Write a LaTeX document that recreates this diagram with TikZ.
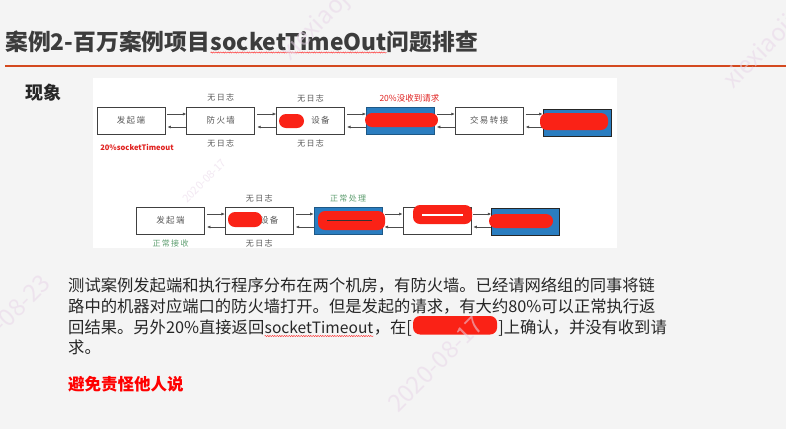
\documentclass[tikz,border=0pt]{standalone}
\usepackage{fontspec}
\setmainfont{Noto Sans CJK SC}
\usetikzlibrary{arrows.meta,positioning,decorations.pathmorphing}

\definecolor{slidebg}{HTML}{F4F4F4}
\definecolor{rulecol}{HTML}{D4491F}
\definecolor{ink}{HTML}{262626}
\definecolor{titleink}{HTML}{3C3C3C}
\definecolor{boxblue}{HTML}{2A7DC0}
\definecolor{redact}{HTML}{FA2216}
\definecolor{okgreen}{HTML}{5E9E70}
\definecolor{wmark}{HTML}{E9D6E9}
\definecolor{notered}{HTML}{E0201E}

\tikzset{
  whitebox/.style={draw=black!75, fill=white, line width=0.8pt,
    minimum width=68pt, minimum height=27pt, inner sep=0pt,
    font=\fontsize{8.5}{10}\selectfont, text=black!65},
  bluebox/.style={whitebox, fill=boxblue, draw=boxblue!70!black},
  loglabel/.style={inner sep=0pt, font=\fontsize{8}{9}\selectfont, text=black!65},
  greenlabel/.style={loglabel, text=okgreen},
  redlabel/.style={inner sep=0pt, font=\fontsize{7.5}{9}\selectfont\bfseries, text=notered},
  flow/.style={-{Latex[length=3.5pt,width=3pt]}, line width=0.6pt, black!70},
  blob/.style={fill=redact, rounded corners=7pt},
  wavy/.style={draw=red!85, line width=0.4pt, decorate,
    decoration={snake, amplitude=0.6pt, segment length=2.4pt}},
  titletext/.style={inner sep=0pt, anchor=base west, text=titleink,
    font=\fontsize{22.8}{26}\selectfont\bfseries},
  bodytext/.style={inner sep=0pt, anchor=base west, text=ink,
    font=\fontsize{16.3}{20}\selectfont},
  watermark/.style={inner sep=0pt, anchor=base west, text=wmark, rotate=45,
    opacity=0.55, font=\fontsize{24}{28}\selectfont}
}

\begin{document}
\begin{tikzpicture}[x=1pt, y=-1pt]
  \useasboundingbox (0,0) rectangle (786,429);
  \clip (0,0) rectangle (786,429);
  \fill[slidebg] (0,0) rectangle (786,429);

  % heading
  \node[titletext] (title1) at (5,50) {案例2-百万案例项目};
  \node[titletext] (title2) at (title1.base east) {socketTimeOut};
  \node[titletext] (title3) at (title2.base east) {问题排查};
  \draw[wavy] ([yshift=-2.5pt]title2.base west) -- ([yshift=-2.5pt]title2.base east);
  \draw[rulecol, line width=2.5pt] (5,66) -- (786,66);

  \node[inner sep=0pt, anchor=base west, text=ink,
    font=\fontsize{18}{20}\selectfont\bfseries] (obs) at (25,99.5) {现象};

  % screenshot panel
  \fill[white] (93,78) rectangle (617,248);

  % upper chain
  \node[whitebox] (T1) at (131,120.5) {发\,起\,端};
  \node[whitebox, right=21pt of T1] (T2) {防\,火\,墙};
  \node[whitebox, right=21pt of T2] (T3) {\hphantom{某\,某\,}设\,备};
  \node[bluebox, right=21pt of T3] (T4) {};
  \node[whitebox, right=20pt of T4] (T5) {交\,易\,转\,接};
  \node[bluebox, draw=black!85, line width=1pt, right=19pt of T5, yshift=-2.5pt] (T6) {};

  % lower chain
  \node[whitebox] (B1) at (170.5,220.5) {发\,起\,端};
  \node[whitebox, right=20pt of B1] (B2) {\hphantom{某\,某\,}设\,备};
  \node[bluebox, right=20pt of B2] (B3) {};
  \node[whitebox, right=20pt of B3] (B4) {};
  \node[bluebox, draw=black!85, line width=1pt, right=20pt of B4, yshift=-1.5pt] (B5) {};

  \foreach \a/\b in {T1/T2,T2/T3,T3/T4,T4/T5,T5/T6,B1/B2,B2/B3,B3/B4,B4/B5} {
    \draw[flow] ([xshift=2pt,yshift=6.5pt]\a.east) -- ([yshift=6.5pt]\a.east -| \b.west);
    \draw[flow] ([yshift=-6.5pt]\a.east -| \b.west) -- ([xshift=2pt,yshift=-6.5pt]\a.east);
  }

  % labels round the chains
  \node[redlabel, below=10pt of T1, xshift=6pt] (T1note) {20\%socketTimeout};
  \node[loglabel, above=5pt of T2] (T2up) {无\,日\,志};
  \node[loglabel, below=5pt of T2] (T2dn) {无\,日\,志};
  \node[loglabel, above=4pt of T3] (T3up) {无\,日\,志};
  \node[loglabel, below=5pt of T3] (T3dn) {无\,日\,志};
  \node[inner sep=0pt, font=\fontsize{8.5}{10}\selectfont, text=notered,
    above=4pt of T4, xshift=9pt] (T4note) {20\%没收到请求};
  \node[loglabel, above=4pt of B2] (B2up) {无\,日\,志};
  \node[loglabel, below=5pt of B2] (B2dn) {无\,日\,志};
  \node[greenlabel, above=4pt of B3] (B3note) {正\,常\,处\,理};
  \node[greenlabel, below=5pt of B1] (B1note) {正\,常\,接\,收};

  % redactions
  \fill[blob] (279,114) rectangle (304,128);
  \fill[blob] (365,113) rectangle (438,127);
  \fill[blob] (540,113) rectangle (608,130);
  \fill[blob] (228,212) rectangle (262,227);
  \fill[blob] (318,211) rectangle (385,230);
  \draw[black!80, line width=0.8pt] (327,220) -- (372,220);
  \fill[blob] (413,205) rectangle (472,224);
  \draw[white, line width=2pt] (422,215) -- (463,215);
  \fill[blob] (489,214) rectangle (553,228);

  % description
  \node[bodytext] (line1) at (68,291) {测试案例发起端和执行程序分布在两个机房，有防火墙。已经请网络组的同事将链};
  \node[bodytext] (line2) at (68,312) {路中的机器对应端口的防火墙打开。但是发起的请求，有大约80\%可以正常执行返};
  \node[bodytext] (line3a) at (68,333) {回结果。另外20\%直接返回};
  \node[bodytext, font=\fontsize{15.6}{20}\selectfont] (line3b) at (line3a.base east) {socketTimeout};
  \node[bodytext] (line3c) at (line3b.base east) {，在[};
  \node[bodytext, anchor=base east] (line3d) at (667,333) {]上确认，并没有收到请};
  \draw[wavy] ([yshift=-3pt]line3b.base west) -- ([yshift=-3pt]line3b.base east);
  \fill[blob] ([xshift=1pt,yshift=-1.5pt]line3c.base east) rectangle ([xshift=-1pt,yshift=17pt]line3d.base west);
  \node[bodytext] (line4) at (68,353) {求。};
  \node[bodytext, text=red, font=\fontsize{16.5}{20}\selectfont\bfseries] (warn) at (68,390) {避免责怪他人说};

  % watermark
  \node[watermark] (wm1) at (290,62) {xiexiaojing};
  \node[watermark] (wm2) at (733,90) {xiexiaojing};
  \node[watermark] (wm3) at (-35,372) {2020-08-23};
  \node[watermark] (wm4) at (398,414) {2020-08-17};
  \node[watermark, font=\fontsize{11}{13}\selectfont] (wm5) at (187,204) {2020-08-17};
\end{tikzpicture}
\end{document}
